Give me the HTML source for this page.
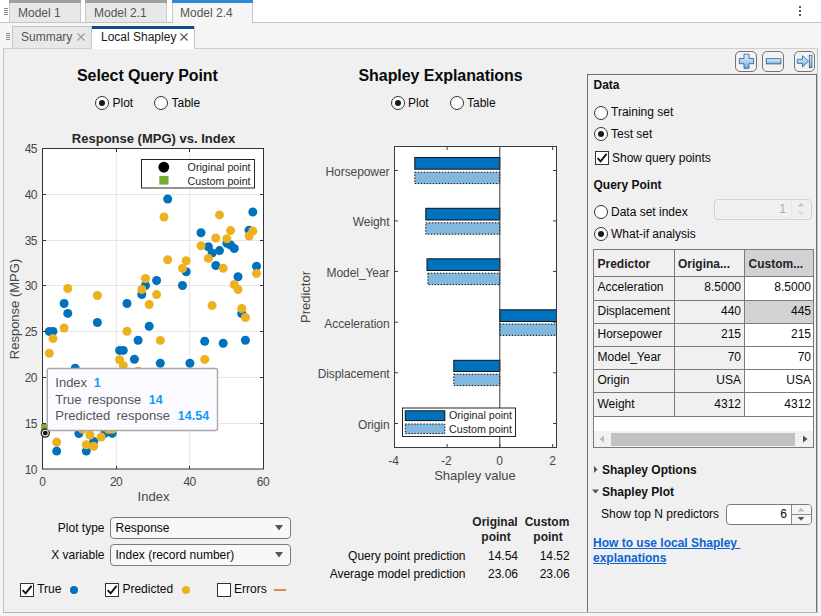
<!DOCTYPE html>
<html>
<head>
<meta charset="utf-8">
<title>Regression Learner - Local Shapley</title>
<style>
html,body{margin:0;padding:0;}
body{width:821px;height:616px;overflow:hidden;background:#f5f5f5;font-family:"Liberation Sans",sans-serif;font-size:12px;color:#0a0a0a;position:relative;}
.abs{position:absolute;}
.t{position:absolute;white-space:pre;line-height:14px;height:14px;}
.b{font-weight:bold;}
.r{text-align:right;}
.c{text-align:center;}
.radio{position:absolute;width:12px;height:12px;border:1px solid #333;border-radius:50%;background:#fff;}
.radio.on::after{content:"";position:absolute;left:3px;top:3px;width:6px;height:6px;border-radius:50%;background:#1a1a1a;}
.cb{position:absolute;width:12px;height:12px;border:1px solid #333;background:#fff;}
.dd{position:absolute;border:1px solid #7a7a7a;border-radius:4px;background:#f8f8f8;box-sizing:border-box;}
svg text{font-family:"Liberation Sans",sans-serif;}
.cell{position:absolute;white-space:pre;line-height:14px;height:14px;}
</style>
</head>
<body>
<!-- top strip -->
<div class="abs" style="left:0;top:0;width:821px;height:22px;background:#fff;"></div>
<div class="abs" style="left:0;top:22px;width:821px;height:1px;background:#c4c4c4;"></div>
<!-- grip 1 -->
<div class="abs" style="left:3.5px;top:8px;width:4px;height:1px;background:#8a8a8a;box-shadow:0 2px 0 #8a8a8a,0 4px 0 #8a8a8a,0 6px 0 #8a8a8a;"></div>
<!-- model tabs -->
<div class="abs" style="left:9px;top:0;width:72px;height:22px;background:#e8e8e8;border-left:1px solid #c8c8c8;border-right:1px solid #c8c8c8;box-sizing:border-box;"></div>
<div class="abs" style="left:9px;top:0;width:72px;height:3px;background:#a0a0a0;"></div>
<div class="t" style="left:18px;top:6px;color:#555;">Model 1</div>
<div class="abs" style="left:85px;top:0;width:82px;height:22px;background:#e8e8e8;border-left:1px solid #c8c8c8;border-right:1px solid #c8c8c8;box-sizing:border-box;"></div>
<div class="abs" style="left:85px;top:0;width:82px;height:3px;background:#a0a0a0;"></div>
<div class="t" style="left:94px;top:6px;color:#555;">Model 2.1</div>
<div class="abs" style="left:172px;top:0;width:81px;height:23px;background:#f5f5f5;border-left:1px solid #c8c8c8;border-right:1px solid #c8c8c8;box-sizing:border-box;"></div>
<div class="abs" style="left:172px;top:0;width:81px;height:3px;background:#2b8ad8;"></div>
<div class="t" style="left:180px;top:6px;color:#555;">Model 2.4</div>
<!-- vertical dots -->
<div class="abs" style="left:799px;top:6px;width:2px;height:2px;background:#555;box-shadow:0 4px 0 #555,0 8px 0 #555;"></div>

<!-- second strip -->
<div class="abs" style="left:3px;top:48px;width:815px;height:1px;background:#cfcfcf;"></div>
<!-- grip 2 -->
<div class="abs" style="left:6px;top:33px;width:4px;height:1px;background:#8a8a8a;box-shadow:0 2px 0 #8a8a8a,0 4px 0 #8a8a8a,0 6px 0 #8a8a8a;"></div>
<div class="abs" style="left:12px;top:26px;width:80px;height:22px;background:#e8e8e8;border:1px solid #c4c4c4;border-bottom:none;box-sizing:border-box;"></div>
<div class="t" style="left:21px;top:30px;color:#555;">Summary</div>
<svg class="abs" style="left:76px;top:32px;" width="10" height="10"><path d="M1.5 1.5 L8.5 8.5 M8.5 1.5 L1.5 8.5" stroke="#999" stroke-width="1.1" fill="none"/></svg>
<div class="abs" style="left:92px;top:26px;width:103px;height:23px;background:#fff;border-right:1px solid #c4c4c4;box-sizing:border-box;"></div>
<div class="abs" style="left:92px;top:26px;width:102px;height:3px;background:#0f4c8a;"></div>
<div class="t" style="left:101px;top:30px;color:#1a1a1a;">Local Shapley</div>
<svg class="abs" style="left:179px;top:32px;" width="10" height="10"><path d="M1.5 1.5 L8.5 8.5 M8.5 1.5 L1.5 8.5" stroke="#555" stroke-width="1.1" fill="none"/></svg>

<!-- content area -->
<div class="abs" style="left:3px;top:49px;width:815px;height:564px;background:#f0f0f0;border-left:1px solid #c4c4c4;border-right:1px solid #c4c4c4;border-bottom:1px solid #b2b2b2;box-sizing:border-box;"></div>

<!-- LEFT PANEL -->
<div class="t b" style="left:77px;top:67px;font-size:16px;letter-spacing:-0.085px;line-height:18px;height:18px;color:#0a0a0a;">Select Query Point</div>
<div class="radio on" style="left:95px;top:96px;"></div>
<div class="t" style="left:112.5px;top:96px;">Plot</div>
<div class="radio" style="left:154px;top:96px;"></div>
<div class="t" style="left:171.5px;top:96px;">Table</div>

<!-- scatter chart -->
<svg class="abs" style="left:0;top:120px;" width="300" height="395" viewBox="0 120 300 395">
<rect x="42.5" y="148.5" width="221" height="320.5" fill="#fff"/>
<g stroke="#e6e6e6" stroke-width="1" fill="none">
<path d="M116.3 149V469M189.7 149V469"/>
<path d="M43 194.5H263M43 240.5H263M43 285.5H263M43 331.5H263M43 377.5H263M43 423.5H263"/>
</g>
<clipPath id="cp"><rect x="38" y="140" width="230" height="329.5"/></clipPath>
<g clip-path="url(#cp)">
<g fill="#0072bd"><circle cx="49.3" cy="331.4" r="4.5"/><circle cx="53.0" cy="331.4" r="4.5"/><circle cx="56.7" cy="451.1" r="4.5"/><circle cx="64.1" cy="303.5" r="4.5"/><circle cx="67.8" cy="313.4" r="4.5"/><circle cx="75.2" cy="368.3" r="4.5"/><circle cx="78.9" cy="433.5" r="4.5"/><circle cx="86.3" cy="451.1" r="4.5"/><circle cx="93.7" cy="441.4" r="4.5"/><circle cx="97.4" cy="322.5" r="4.5"/><circle cx="104.8" cy="433.4" r="4.5"/><circle cx="112.2" cy="433.4" r="4.5"/><circle cx="119.6" cy="350.4" r="4.5"/><circle cx="123.3" cy="350.4" r="4.5"/><circle cx="127.0" cy="303.5" r="4.5"/><circle cx="134.4" cy="359.2" r="4.5"/><circle cx="138.1" cy="340.2" r="4.5"/><circle cx="141.8" cy="294.5" r="4.5"/><circle cx="145.5" cy="285.5" r="4.5"/><circle cx="149.2" cy="326.2" r="4.5"/><circle cx="156.6" cy="280.5" r="4.5"/><circle cx="160.3" cy="363.3" r="4.5"/><circle cx="167.7" cy="199.0" r="4.5"/><circle cx="182.5" cy="285.5" r="4.5"/><circle cx="186.2" cy="271.7" r="4.5"/><circle cx="189.9" cy="363.3" r="4.5"/><circle cx="201.0" cy="232.8" r="4.5"/><circle cx="204.7" cy="341.3" r="4.5"/><circle cx="208.4" cy="246.8" r="4.5"/><circle cx="212.1" cy="253.0" r="4.5"/><circle cx="215.8" cy="265.5" r="4.5"/><circle cx="219.5" cy="250.6" r="4.5"/><circle cx="223.2" cy="343.3" r="4.5"/><circle cx="226.9" cy="243.3" r="4.5"/><circle cx="230.6" cy="245.0" r="4.5"/><circle cx="234.3" cy="248.5" r="4.5"/><circle cx="238.0" cy="276.8" r="4.5"/><circle cx="241.7" cy="313.5" r="4.5"/><circle cx="245.4" cy="340.3" r="4.5"/><circle cx="249.1" cy="230.3" r="4.5"/><circle cx="252.8" cy="212.0" r="4.5"/><circle cx="256.5" cy="266.3" r="4.5"/></g>
<g fill="#edb120"><circle cx="49.3" cy="353.3" r="4.5"/><circle cx="53.0" cy="338.6" r="4.5"/><circle cx="56.7" cy="442.1" r="4.5"/><circle cx="64.1" cy="328.0" r="4.5"/><circle cx="67.8" cy="288.5" r="4.5"/><circle cx="82.6" cy="429.3" r="4.5"/><circle cx="86.3" cy="444.8" r="4.5"/><circle cx="90.0" cy="435.0" r="4.5"/><circle cx="93.7" cy="446.2" r="4.5"/><circle cx="97.4" cy="295.5" r="4.5"/><circle cx="101.1" cy="437.0" r="4.5"/><circle cx="108.5" cy="429.2" r="4.5"/><circle cx="112.2" cy="429.2" r="4.5"/><circle cx="119.6" cy="359.8" r="4.5"/><circle cx="123.3" cy="365.5" r="4.5"/><circle cx="127.0" cy="331.3" r="4.5"/><circle cx="138.1" cy="371.3" r="4.5"/><circle cx="141.8" cy="289.5" r="4.5"/><circle cx="145.5" cy="278.5" r="4.5"/><circle cx="149.2" cy="304.5" r="4.5"/><circle cx="156.6" cy="294.6" r="4.5"/><circle cx="160.3" cy="340.4" r="4.5"/><circle cx="164.0" cy="217.0" r="4.5"/><circle cx="167.7" cy="259.7" r="4.5"/><circle cx="182.5" cy="268.4" r="4.5"/><circle cx="186.2" cy="260.7" r="4.5"/><circle cx="201.0" cy="245.8" r="4.5"/><circle cx="204.7" cy="359.4" r="4.5"/><circle cx="208.4" cy="258.4" r="4.5"/><circle cx="212.1" cy="305.6" r="4.5"/><circle cx="215.8" cy="238.0" r="4.5"/><circle cx="219.5" cy="214.9" r="4.5"/><circle cx="223.2" cy="268.3" r="4.5"/><circle cx="226.9" cy="238.8" r="4.5"/><circle cx="230.6" cy="230.6" r="4.5"/><circle cx="234.3" cy="284.5" r="4.5"/><circle cx="238.0" cy="289.5" r="4.5"/><circle cx="241.7" cy="308.5" r="4.5"/><circle cx="245.4" cy="317.5" r="4.5"/><circle cx="249.1" cy="236.0" r="4.5"/><circle cx="252.8" cy="231.0" r="4.5"/><circle cx="256.5" cy="273.5" r="4.5"/></g>
</g>
<!-- axes box -->
<g stroke="#333" stroke-width="1" fill="none">
<rect x="42.5" y="148.5" width="221" height="320.5"/>
<path d="M43 194.5h3M43 240.5h3M43 285.5h3M43 331.5h3M43 377.5h3M43 423.5h3"/>
<path d="M263 194.5h-3M263 240.5h-3M263 285.5h-3M263 331.5h-3M263 377.5h-3M263 423.5h-3"/>
<path d="M116.5 469v-3M189.5 469v-3M116.5 149v3M189.5 149v3"/>
</g>
<!-- query points -->
<rect x="41" y="424" width="8.5" height="8" fill="#77ac30"/>
<circle cx="45.3" cy="433.1" r="4.1" fill="#f3efcf" stroke="#222" stroke-width="1.3"/>
<circle cx="45.3" cy="433.1" r="2.4" fill="#111"/>
<!-- legend -->
<rect x="141.5" y="159.5" width="113" height="28.5" fill="#fff" stroke="#262626" stroke-width="1"/>
<circle cx="163.8" cy="167.1" r="5.4" fill="#000"/>
<rect x="159.3" y="175.9" width="9.2" height="8.7" fill="#77ac30"/>
<text x="187.6" y="170.8" font-size="10.7" fill="#262626">Original point</text>
<text x="187.6" y="184.6" font-size="10.7" fill="#262626">Custom point</text>
<!-- labels -->
<text x="153.5" y="142.6" font-size="13" font-weight="bold" text-anchor="middle" fill="#262626">Response (MPG) vs. Index</text>
<g font-size="12" fill="#484848" text-anchor="end" letter-spacing="-0.6">
<text x="36.9" y="153.4">45</text><text x="36.9" y="198.9">40</text><text x="36.9" y="244.9">35</text><text x="36.9" y="290.4">30</text><text x="36.9" y="336.4">25</text><text x="36.9" y="381.9">20</text><text x="36.9" y="427.9">15</text><text x="36.9" y="473.9">10</text>
</g>
<g font-size="12" fill="#484848" text-anchor="middle" letter-spacing="-0.6">
<text x="42.3" y="485.5">0</text><text x="116.1" y="485.5">20</text><text x="189.5" y="485.5">40</text><text x="262.9" y="485.5">60</text>
</g>
<text x="153.5" y="501" font-size="13" text-anchor="middle" fill="#484848">Index</text>
<text transform="translate(18.5,309) rotate(-90)" font-size="13" text-anchor="middle" fill="#484848">Response (MPG)</text>
<!-- datatip -->
<rect x="47.3" y="368.5" width="170.2" height="62" rx="2" fill="#fbfbff" stroke="#a8a8a8" stroke-width="1.4"/>
<g font-size="13" fill="#555">
<text x="55.3" y="386.6">Index</text>
<text x="55.3" y="404" word-spacing="2.6">True response</text>
<text x="55.3" y="419.7" word-spacing="2.6">Predicted response</text>
</g>
<g font-size="12.5" fill="#0f9bf5" font-weight="bold">
<text x="93.7" y="386.6">1</text>
<text x="148.8" y="404">14</text>
<text x="177.8" y="419.7">14.54</text>
</g>
</svg>

<!-- left controls -->
<div class="t r" style="left:30px;width:74.5px;top:521px;">Plot type</div>
<div class="dd" style="left:110px;top:517px;width:181px;height:22px;"></div>
<div class="t" style="left:115.5px;top:520.5px;">Response</div>
<svg class="abs" style="left:274px;top:524px;" width="10" height="7"><path d="M1 1H9L5 6.5Z" fill="#555"/></svg>
<div class="t r" style="left:30px;width:74.5px;top:548px;">X variable</div>
<div class="dd" style="left:110px;top:544px;width:181px;height:22px;"></div>
<div class="t" style="left:115.5px;top:547.5px;">Index (record number)</div>
<svg class="abs" style="left:274px;top:551px;" width="10" height="7"><path d="M1 1H9L5 6.5Z" fill="#555"/></svg>

<div class="cb" style="left:20px;top:583px;"></div>
<svg class="abs" style="left:21px;top:584px;" width="12" height="12"><path d="M1.6 6.2L4.6 9.4L10.6 1.8" stroke="#111" stroke-width="1.9" fill="none"/></svg>
<div class="t" style="left:37.2px;top:582px;">True</div>
<div class="abs" style="left:69.7px;top:585.7px;width:8.2px;height:8.2px;border-radius:50%;background:#0072bd;"></div>
<div class="cb" style="left:105px;top:583px;"></div>
<svg class="abs" style="left:106px;top:584px;" width="12" height="12"><path d="M1.6 6.2L4.6 9.4L10.6 1.8" stroke="#111" stroke-width="1.9" fill="none"/></svg>
<div class="t" style="left:122.4px;top:582px;">Predicted</div>
<div class="abs" style="left:181.5px;top:585.9px;width:8.2px;height:8.2px;border-radius:50%;background:#edb120;"></div>
<div class="cb" style="left:217px;top:583px;"></div>
<div class="t" style="left:234px;top:582px;">Errors</div>
<div class="abs" style="left:274px;top:589px;width:12px;height:1.5px;background:#e0875a;"></div>

<!-- MIDDLE PANEL -->
<div class="t b" style="left:358.5px;top:66.5px;font-size:16px;letter-spacing:-0.065px;line-height:18px;height:18px;color:#0a0a0a;">Shapley Explanations</div>
<div class="radio on" style="left:391px;top:96px;"></div>
<div class="t" style="left:408px;top:96px;">Plot</div>
<div class="radio" style="left:450px;top:96px;"></div>
<div class="t" style="left:467px;top:96px;">Table</div>

<svg class="abs" style="left:290px;top:130px;" width="295" height="365" viewBox="290 130 295 365">
<rect x="394.5" y="146.5" width="162" height="301" fill="#fff"/>
<clipPath id="cp2"><rect x="394.5" y="146.5" width="162" height="301"/></clipPath>
<g clip-path="url(#cp2)">
<g fill="#0072bd" stroke="#111" stroke-width="1">
<rect x="414.8" y="157.5" width="85" height="11.7"/>
<rect x="425.8" y="208.3" width="74" height="11.7"/>
<rect x="427" y="258.8" width="72.8" height="11.7"/>
<rect x="499.8" y="309.8" width="70" height="11.7"/>
<rect x="453.8" y="360.3" width="46" height="11.2"/>
</g>
<g fill="#80b8de" stroke="#111" stroke-width="1" stroke-dasharray="1.5 1.5">
<rect x="414.8" y="172.2" width="85" height="11.4"/>
<rect x="425.8" y="222.8" width="74" height="11.4"/>
<rect x="427.9" y="273.2" width="71.9" height="11.4"/>
<rect x="499.8" y="324" width="70" height="11.4"/>
<rect x="453.8" y="374.2" width="46" height="11.4"/>
</g>
</g>
<g stroke="#3a3a3a" stroke-width="1" fill="none">
<path d="M499.8 147V447.5"/>
<rect x="394.5" y="146.5" width="162" height="301"/>
<path d="M447.1 447v-3M499.8 447v-3M552.7 447v-3M447.1 147v3M552.7 147v3"/>
<path d="M395 170.5h3M395 220.9h3M395 271.4h3M395 322.2h3M395 372.8h3M395 423.5h3"/>
<path d="M556 170.5h-3M556 220.9h-3M556 271.4h-3M556 322.2h-3M556 372.8h-3M556 423.5h-3"/>
</g>
<g font-size="12" fill="#484848" text-anchor="end" letter-spacing="-0.07">
<text x="389.5" y="176">Horsepower</text>
<text x="389.5" y="226.4">Weight</text>
<text x="389.5" y="276.9">Model_Year</text>
<text x="389.5" y="327.7">Acceleration</text>
<text x="389.5" y="378.3">Displacement</text>
<text x="389.5" y="429">Origin</text>
</g>
<g font-size="12" fill="#484848" text-anchor="middle">
<text x="393.6" y="464.5">-4</text><text x="446.3" y="464.5">-2</text><text x="499.5" y="464.5">0</text><text x="552.7" y="464.5">2</text>
</g>
<text x="475" y="480" font-size="13" text-anchor="middle" fill="#484848">Shapley value</text>
<text transform="translate(309.5,297) rotate(-90)" font-size="13" text-anchor="middle" fill="#484848">Predictor</text>
<!-- legend -->
<rect x="402.5" y="408" width="113" height="28.5" fill="#fff" stroke="#262626" stroke-width="1"/>
<rect x="405.3" y="410.8" width="39.5" height="9.8" fill="#0072bd" stroke="#111" stroke-width="1"/>
<rect x="405.3" y="424" width="39.5" height="9.6" fill="#80b8de" stroke="#111" stroke-width="1" stroke-dasharray="1.5 1.5"/>
<text x="449" y="419.4" font-size="10.7" fill="#262626">Original point</text>
<text x="449" y="433" font-size="10.7" fill="#262626">Custom point</text>
</svg>

<!-- stats -->
<div class="t b c" style="left:465px;width:60px;top:514.5px;color:#222;">Original</div>
<div class="t b c" style="left:466px;width:60px;top:530px;color:#222;">point</div>
<div class="t b c" style="left:517px;width:60px;top:514.5px;color:#222;">Custom</div>
<div class="t b c" style="left:518px;width:60px;top:530px;color:#222;">point</div>
<div class="t r" style="left:320px;width:145.5px;top:549px;">Query point prediction</div>
<div class="t r" style="left:470px;width:48px;top:549px;">14.54</div>
<div class="t r" style="left:522px;width:47.7px;top:549px;">14.52</div>
<div class="t r" style="left:320px;width:145.5px;top:567px;">Average model prediction</div>
<div class="t r" style="left:470px;width:48px;top:567px;">23.06</div>
<div class="t r" style="left:522px;width:47.7px;top:567px;">23.06</div>

<!-- RIGHT PANEL -->
<!-- icon buttons -->
<div class="abs" style="left:735px;top:51px;width:22px;height:21px;border:1px solid #747474;border-radius:5px;box-sizing:border-box;background:#f2f2f2;"></div>
<div class="abs" style="left:762px;top:51px;width:22px;height:21px;border:1px solid #747474;border-radius:5px;box-sizing:border-box;background:#f2f2f2;"></div>
<div class="abs" style="left:794px;top:51px;width:21px;height:21px;border:1px solid #747474;border-radius:5px;box-sizing:border-box;background:#f2f2f2;"></div>
<svg class="abs" style="left:735px;top:51px;" width="80" height="21" viewBox="735 51 80 21">
<defs><linearGradient id="bg" x1="0" y1="0" x2="0" y2="1"><stop offset="0" stop-color="#e2f0fb"/><stop offset="0.5" stop-color="#b2d4ef"/><stop offset="1" stop-color="#6ea8d8"/></linearGradient></defs>
<path d="M744 54.2h5v4.3h4.6v5.2h-4.6v4.6h-5v-4.6h-4.6v-5.2h4.6z" fill="url(#bg)" stroke="#2f6299" stroke-width="0.85"/>
<rect x="766.3" y="58.7" width="14.6" height="5.2" fill="url(#bg)" stroke="#2f6299" stroke-width="0.85"/>
<path d="M797.3 59.3h5.2v-3.6l6 5.6l-6 5.6v-3.6h-5.2z" fill="url(#bg)" stroke="#2f6299" stroke-width="0.85"/>
<rect x="809.3" y="55.2" width="2.6" height="12.4" fill="url(#bg)" stroke="#2f6299" stroke-width="0.85"/>
</svg>

<div class="abs" style="left:587px;top:74px;width:230px;height:538px;border:1px solid #6e6e6e;border-bottom:none;box-sizing:border-box;"></div>
<div class="t b" style="left:593.5px;top:78px;color:#111;">Data</div>
<div class="radio" style="left:594px;top:106px;"></div>
<div class="t" style="left:611px;top:105px;">Training set</div>
<div class="radio on" style="left:594px;top:127px;"></div>
<div class="t" style="left:611px;top:127px;">Test set</div>
<div class="cb" style="left:595px;top:151px;"></div>
<svg class="abs" style="left:596px;top:152px;" width="12" height="12"><path d="M1.6 6.2L4.6 9.4L10.6 1.8" stroke="#111" stroke-width="1.9" fill="none"/></svg>
<div class="t" style="left:612px;top:151px;">Show query points</div>
<div class="t b" style="left:593.5px;top:178px;color:#111;">Query Point</div>
<div class="radio" style="left:594px;top:205px;"></div>
<div class="t" style="left:611px;top:204.5px;">Data set index</div>
<div class="abs" style="left:713.5px;top:198.5px;width:98px;height:21px;border:1px solid #d2d2d2;border-radius:4px;box-sizing:border-box;background:#f0f0f0;"></div>
<div class="abs" style="left:790.5px;top:199.5px;width:1px;height:19px;background:#e6e6e6;"></div>
<div class="t r" style="left:740px;width:46px;top:202px;color:#a8a8a8;">1</div>
<svg class="abs" style="left:796px;top:201px;" width="10" height="16"><path d="M1.5 5.5L5 1.8L8.5 5.5Z" fill="#c6c6c6"/><path d="M1.5 10.5L5 14.2L8.5 10.5Z" fill="#dcdcdc"/></svg>
<div class="radio on" style="left:594px;top:227px;"></div>
<div class="t" style="left:611px;top:226.5px;">What-if analysis</div>

<!-- table -->
<div class="abs" style="left:593px;top:249px;width:221px;height:198.5px;background:#fff;border:1px solid #7a7a7a;box-sizing:border-box;"></div>
<div class="abs" style="left:594px;top:250px;width:151px;height:166px;background:#f0f0f0;"></div>
<div class="abs" style="left:745px;top:250px;width:68px;height:26px;background:#d2d2d2;"></div>
<div class="abs" style="left:745px;top:300px;width:68px;height:23px;background:#d2d2d2;"></div>
<div class="abs" style="left:594px;top:276px;width:219px;height:1px;background:#7a7a7a;box-shadow:0 24px 0 #7a7a7a,0 47px 0 #7a7a7a,0 70px 0 #7a7a7a,0 93px 0 #7a7a7a,0 116px 0 #7a7a7a,0 140px 0 #7a7a7a;"></div>
<div class="abs" style="left:674px;top:250px;width:1px;height:166px;background:#7a7a7a;box-shadow:70px 0 0 #7a7a7a;"></div>
<div class="cell b" style="left:597.5px;top:257px;color:#222;">Predictor</div>
<div class="cell b" style="left:678px;top:257px;color:#222;">Origina...</div>
<div class="cell b" style="left:748.5px;top:257px;color:#222;">Custom...</div>
<div class="cell" style="left:597.5px;top:280px;">Acceleration</div>
<div class="cell" style="left:597.5px;top:304px;">Displacement</div>
<div class="cell" style="left:597.5px;top:327px;">Horsepower</div>
<div class="cell" style="left:597.5px;top:350px;">Model_Year</div>
<div class="cell" style="left:597.5px;top:373px;">Origin</div>
<div class="cell" style="left:597.5px;top:396.5px;">Weight</div>
<div class="cell r" style="left:680px;width:61px;top:280px;">8.5000</div>
<div class="cell r" style="left:680px;width:61px;top:304px;">440</div>
<div class="cell r" style="left:680px;width:61px;top:327px;">215</div>
<div class="cell r" style="left:680px;width:61px;top:350px;">70</div>
<div class="cell r" style="left:680px;width:61px;top:373px;">USA</div>
<div class="cell r" style="left:680px;width:61px;top:396.5px;">4312</div>
<div class="cell r" style="left:750px;width:61px;top:280px;">8.5000</div>
<div class="cell r" style="left:750px;width:61px;top:304px;">445</div>
<div class="cell r" style="left:750px;width:61px;top:327px;">215</div>
<div class="cell r" style="left:750px;width:61px;top:350px;">70</div>
<div class="cell r" style="left:750px;width:61px;top:373px;">USA</div>
<div class="cell r" style="left:750px;width:61px;top:396.5px;">4312</div>
<!-- scrollbar -->
<div class="abs" style="left:594px;top:431px;width:219px;height:16px;background:#f1f1f1;"></div>
<div class="abs" style="left:611px;top:432.5px;width:184px;height:13px;background:#c1c1c1;"></div>
<svg class="abs" style="left:594px;top:431px;" width="219" height="16"><path d="M10 4.5L5.5 8L10 11.5Z" fill="#b8b8b8"/><path d="M209 4.5L213.5 8L209 11.5Z" fill="#505050"/></svg>

<!-- accordion -->
<svg class="abs" style="left:591px;top:463px;" width="10" height="36"><path d="M3 3L6.5 6.5L3 10Z" fill="#555"/><path d="M1 26.5H8L4.5 30.5Z" fill="#555"/></svg>
<div class="t b" style="left:602px;top:463px;color:#111;">Shapley Options</div>
<div class="t b" style="left:602px;top:485px;color:#111;">Shapley Plot</div>
<div class="t" style="left:601px;top:506.5px;">Show top N predictors</div>
<div class="abs" style="left:726px;top:503.5px;width:86px;height:21px;border:1px solid #7a7a7a;border-radius:4px;box-sizing:border-box;background:#fff;"></div>
<div class="abs" style="left:790.5px;top:504.5px;width:1px;height:19px;background:#8a8a8a;"></div>
<div class="abs" style="left:791.5px;top:513.5px;width:19.5px;height:1px;background:#8a8a8a;"></div>
<div class="abs" style="left:791.5px;top:504.5px;width:19.5px;height:9px;background:#f4f4f4;border-radius:0 3px 0 0;"></div>
<div class="abs" style="left:791.5px;top:514.5px;width:19.5px;height:9px;background:#f4f4f4;border-radius:0 0 3px 0;"></div>
<div class="t r" style="left:740px;width:47px;top:507px;">6</div>
<svg class="abs" style="left:796px;top:505px;" width="10" height="18"><path d="M1.5 6.5L5 2.8L8.5 6.5Z" fill="#bdbdbd"/><path d="M1.5 12L5 15.7L8.5 12Z" fill="#555"/></svg>
<div class="t b" style="left:593px;top:536px;color:#0b63d1;text-decoration:underline;">How to use local Shapley </div>
<div class="t b" style="left:593px;top:550.7px;color:#0b63d1;text-decoration:underline;">explanations</div>
</body>
</html>
